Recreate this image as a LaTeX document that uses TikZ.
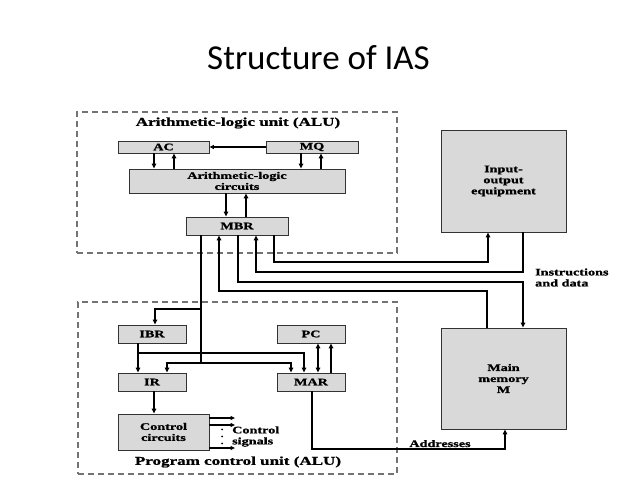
\documentclass[tikz,border=0pt]{standalone}
\usepackage{fontspec}
\setmainfont{Liberation Serif}
\newfontfamily\boxfont[FakeStretch=1.42,FakeBold=1.2]{Liberation Serif Bold}
\newfontfamily\titlefont{Carlito}
\usetikzlibrary{arrows.meta}
\tikzset{
  unit/.style={draw=black!80, line width=0.8pt, fill=black!15, inner sep=0pt,
    font=\boxfont\fontsize{10}{11}\selectfont, align=center},
  conn/.style={line width=1.7pt},
  tip/.style={-{Triangle[length=5pt,width=4.5pt]}},
  arr/.style={conn, tip},
  dbl/.style={conn, {Triangle[length=5pt,width=4.5pt]}-{Triangle[length=5pt,width=4.5pt]}},
  thinarr/.style={line width=1.1pt, -{Triangle[length=4.5pt,width=4pt]}},
  frame/.style={draw=black!55, dash pattern=on 6pt off 4pt, line width=1.1pt, inner sep=0pt},
  lbl/.style={font=\boxfont\fontsize{10}{11}\selectfont, inner sep=0pt, align=left},
  unittitle/.style={font=\boxfont\fontsize{12}{14}\selectfont, inner sep=0pt}
}
\begin{document}
\begin{tikzpicture}[x=1pt,y=-1pt]
\useasboundingbox (0,0) rectangle (638,478);
% title
\node[font=\titlefont\fontsize{35}{42}\selectfont, anchor=base, inner sep=0pt] (title) at (318.5,70) {Structure of IAS};
% frames
\node[frame, minimum width=320pt, minimum height=141pt] (alu) at (237,182.5) {};
\node[frame, minimum width=319pt, minimum height=172pt] (pcu) at (237.5,388) {};
\node[unittitle] (alutitle) at (238,123) {Arithmetic-logic unit (ALU)};
\node[unittitle] (pcutitle) at (238,462) {Program control unit (ALU)};
% boxes
\node[unit, minimum width=91pt, minimum height=12pt] (AC) at (163.5,147) {AC};
\node[unit, minimum width=92pt, minimum height=12pt] (MQ) at (312,147) {MQ};
\node[unit, minimum width=216pt, minimum height=24pt] (ALC) at (237,181) {Arithmetic-logic\\circuits};
\node[unit, minimum width=102pt, minimum height=18pt] (MBR) at (237,226) {MBR};
\node[unit, minimum width=125pt, minimum height=102pt] (IO) at (503.5,181) {Input-\\output\\equipment};
\node[unit, minimum width=125pt, minimum height=101pt] (MM) at (503.5,378.5) {Main\\memory\\M};
\node[unit, minimum width=68pt, minimum height=18pt] (IBR) at (152,334) {IBR};
\node[unit, minimum width=68pt, minimum height=18pt] (PC) at (311,334) {PC};
\node[unit, minimum width=68pt, minimum height=18pt] (IR) at (152,382) {IR};
\node[unit, minimum width=68pt, minimum height=18pt] (MAR) at (311,382) {MAR};
\node[unit, minimum width=91pt, minimum height=36pt] (CC) at (163.5,432) {Control\\circuits};
% ALU internal connectors
\draw[thinarr] (MQ.west) -- (AC.east);
\draw[arr] (154,0 |- AC.south) -- (154,0 |- ALC.north);
\draw[arr] (174,0 |- ALC.north) -- (174,0 |- AC.south);
\draw[arr] (301,0 |- MQ.south) -- (301,0 |- ALC.north);
\draw[arr] (321,0 |- ALC.north) -- (321,0 |- MQ.south);
\draw[arr] (226,0 |- ALC.south) -- (226,0 |- MBR.north);
\draw[arr] (246,0 |- MBR.north) -- (246,0 |- ALC.south);
% MBR to I/O and memory
\draw[arr] (274,0 |- MBR.south) -- (274,262) -| (488,0 |- IO.south);
\draw[arr] (523,0 |- IO.south) -- (523,272) -| (256,0 |- MBR.south);
\draw[arr] (238,0 |- MBR.south) -- (238,282) -| (523,0 |- MM.north);
\draw[arr] (487,0 |- MM.north) -- (487,291) -| (219,0 |- MBR.south);
% MBR to program control unit
\coordinate (jA) at (201,309);
\coordinate (jB) at (201,363);
\coordinate (jC) at (138,353);
\draw[conn] (201,0 |- MBR.south) -- (jB);
\draw[arr] (jA) -| (155,0 |- IBR.north);
\draw[arr] (jB) -| (167,0 |- IR.north);
\draw[arr] (jB) -| (291,0 |- MAR.north);
\draw[arr] (138,0 |- IBR.south) -- (138,0 |- IR.north);
\draw[arr] (jC) -| (304,0 |- MAR.north);
\draw[dbl] (318,0 |- PC.south) -- (318,0 |- MAR.north);
\draw[arr] (331,0 |- MAR.north) -- (331,0 |- PC.south);
\draw[arr] (154,0 |- IR.south) -- (154,0 |- CC.north);
% control signals
\coordinate (cs1) at (235,418);
\coordinate (cs2) at (235,425);
\coordinate (cs3) at (235,448);
\draw[thinarr] (CC.east |- cs1) -- (cs1);
\draw[thinarr] (CC.east |- cs2) -- (cs2);
\draw[thinarr] (CC.east |- cs3) -- (cs3);
\fill (222,429.5) circle (1pt);
\fill (222,436.5) circle (1pt);
\fill (222,443.5) circle (1pt);
\node[lbl, anchor=west] (ctrl) at (232,436.5) {Control\\signals};
% addresses
\draw[arr] (312,0 |- MAR.south) -- (312,449) -| (505,0 |- MM.south);
\node[lbl, anchor=base] (addr) at (440,447) {Addresses};
\node[lbl, anchor=west] (instr) at (535,277.5) {Instructions\\and data};
\end{tikzpicture}
\end{document}
